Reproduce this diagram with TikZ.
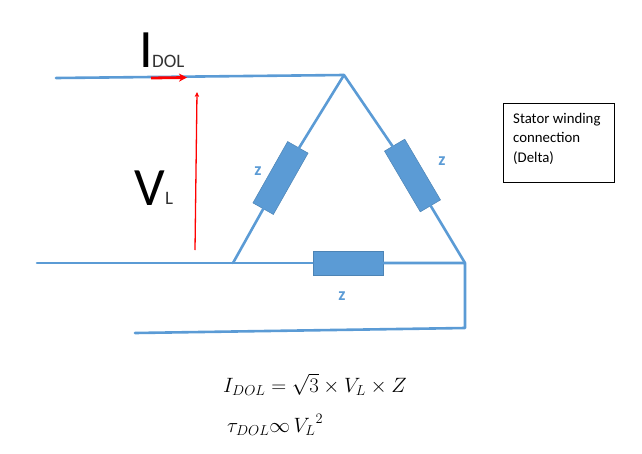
\documentclass[tikz,border=0pt]{standalone}
\usepackage{fontspec}
\setmainfont{Carlito}
\usepackage{tikz}
\usetikzlibrary{%
  arrows,%
  arrows.meta,%
  positioning,% wg. " of "
  calc%
}
\definecolor{wireblue}{HTML}{5B9BD5}
\definecolor{boxblue}{HTML}{5B9BD5}

\begin{document}
\begin{tikzpicture}[
  x=1pt,
  y=-1pt,
  wire/.style={draw=wireblue,line width=2.6pt,line cap=round,line join=round},
  imp/.style={draw=wireblue!85!black,fill=boxblue,line width=0.5pt,minimum width=70.5pt,minimum height=23.5pt,inner sep=0pt},
  zlabel/.style={text=wireblue,font=\fontsize{18}{18}\selectfont\bfseries,inner sep=0pt},
  bigletter/.style={font=\fontsize{54}{54}\selectfont,inner sep=0pt,anchor=base west},
  smallletter/.style={font=\fontsize{19}{19}\selectfont,text=black!80,inner sep=0pt,anchor=base west},
  eqn/.style={font=\fontsize{20}{20}\selectfont,inner sep=0pt,anchor=base west},
]

\useasboundingbox (0,0) rectangle (642,453);

% corners of the delta
\coordinate (top) at (344,75);
\coordinate (left) at (233,263);
\coordinate (right) at (465,263);
\coordinate (turn) at (465,328);
% free line ends
\coordinate (lineA) at (56,78);
\coordinate (lineB) at (37,263);
\coordinate (lineC) at (135,333);

% windings
\node[imp,rotate=60.5] (zleft) at (280.5,178) {};
\node[imp,rotate=-59.5] (zright) at (412.5,175.5) {};
\node[imp] (zbottom) at (348,263) {};

\draw[wire] (lineA) -- (top);
\draw[wire] (top) -- (zleft);
\draw[wire] (zleft) -- (left);
\draw[wire] (top) -- (zright);
\draw[wire] (zright) -- (right);
\draw[wire] (lineB) -- (left) -- (zbottom);
\draw[wire] (zbottom) -- (right) -- (turn) -- (lineC);

\node[zlabel] (zl1) at (258,171) {z};
\node[zlabel] (zl2) at (442,161) {z};
\node[zlabel] (zl3) at (342,296) {z};

% current and voltage
\coordinate (iA) at (151,78);
\coordinate (iB) at (187,77.5);
\coordinate (vA) at (195,250);
\coordinate (vB) at (197,92);
\draw[-{Stealth[length=8pt,width=8pt]},red,line width=2.8pt] (iA) -- (iB);
\draw[-{Stealth[length=5pt,width=4.5pt]},red,line width=1.3pt] (vA) -- (vB);

\node[bigletter] (ibig) at (139,67) {I};
\node[smallletter] (isub) at (152,67) {DOL};
\node[bigletter] (vbig) at (134,205) {V};
\node[smallletter] (vsub) at (165,204) {L};

% note
\node[draw=black,line width=0.8pt,minimum width=111pt,minimum height=79pt,inner sep=0pt] (note) at (558.5,142.5) {};
\node[font=\fontsize{14.8}{19.5}\selectfont,align=left,anchor=north west,inner sep=0pt] (notetext) at (513,113) {Stator winding\\connection\\(Delta)};

% formulas
\node[eqn] (eqA) at (223,392) {$I_{DOL}=\sqrt{3}\times V_L\times Z$};
\node[eqn] (eqB) at (227,432) {$\tau_{DOL}\infty\, {V_L}^2$};

\end{tikzpicture}
\end{document}
